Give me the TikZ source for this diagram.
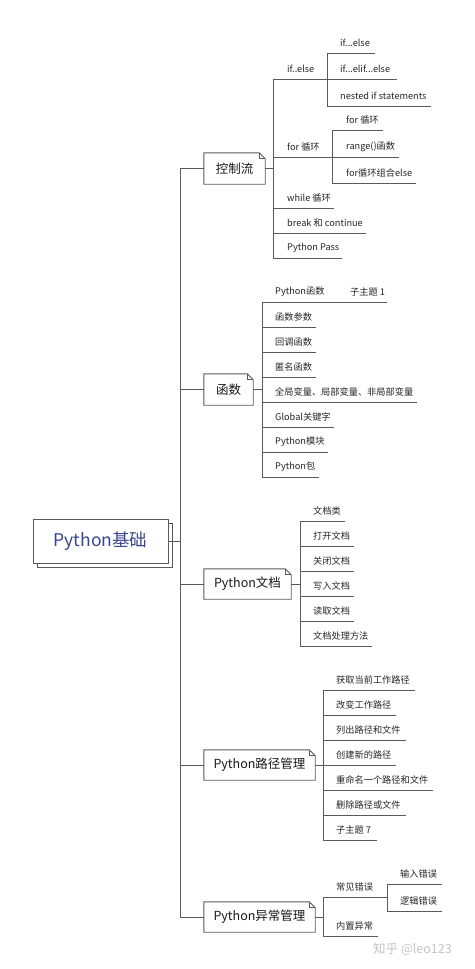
\documentclass[tikz,border=0pt]{standalone}
\usepackage{fontspec}
\setmainfont{Noto Sans CJK SC}
\definecolor{lncol}{HTML}{5A5A5A}
\definecolor{rootblue}{HTML}{3A4590}
\definecolor{wmgray}{HTML}{C4C4C4}
\tikzset{
  ln/.style={draw=lncol, line width=0.9pt},
  leaf/.style={anchor=west, inner sep=0pt, font=\fontsize{9.2}{11}\selectfont, text=black!85},
  topic/.style={inner sep=0pt, font=\fontsize{12.5}{14}\selectfont, text=black!90},
}
\newcommand\mmleaf[5]{%
  \node[leaf] (#1) at (#2,{#3-10}) {#5};
  \coordinate (#1-r) at (#4,#3);
}
\newcommand\foldbox[1]{%
  \draw[ln, fill=white] (#1.north west) -- ([xshift=-6pt]#1.north east) -- ([yshift=-6pt]#1.north east) -- (#1.south east) -- (#1.south west) -- cycle;
  \draw[ln] ([xshift=-6pt]#1.north east) |- ([yshift=-6pt]#1.north east);
}
\begin{document}
\begin{tikzpicture}[x=1pt,y=-1pt]
\useasboundingbox (0,0) rectangle (474,969);
\fill[white] (0,0) rectangle (474,969);

% root
\draw[ln, fill=white] (37,523) rectangle (172,567);
\node[draw=lncol, line width=0.9pt, fill=white, minimum width=135pt, minimum height=44pt, inner sep=0pt,
      font=\fontsize{17.5}{20}\selectfont, text=rootblue] (root) at (100.5,541) {Python基础};

% spine
\coordinate (spine) at (180,0);

% topic boxes
\node[topic, minimum width=61pt, minimum height=31pt] (c1) at (234.5,168.5) {控制流};
\node[topic, minimum width=49pt, minimum height=31pt] (c2) at (228.5,389.5) {函数};
\node[topic, minimum width=87pt, minimum height=30pt] (c3) at (247.5,584) {Python文档};
\node[topic, minimum width=111pt, minimum height=30pt] (c4) at (259.5,765) {Python路径管理};
\node[topic, minimum width=111pt, minimum height=30pt] (c5) at (259.5,917) {Python异常管理};
\foreach \b in {c1,c2,c3,c4,c5} {\foldbox{\b}}
\node[topic] at (c1) {控制流};
\node[topic] at (c2) {函数};
\node[topic] at (c3) {Python文档};
\node[topic] at (c4) {Python路径管理};
\node[topic] at (c5) {Python异常管理};

\draw[ln] (root.east) -- (root.east -| spine);
\draw[ln] (spine |- c1.west) -- (spine |- c5.west);
\foreach \b in {c1,c2,c3,c4,c5} {\draw[ln] (spine |- \b.west) -- (\b.west);}

% ---- 控制流
\coordinate (v1) at (273,0);
\mmleaf{ifelse}{287}{79}{327}{if..else}
\mmleaf{forl}{287}{157}{332}{for 循环}
\mmleaf{while}{287}{208}{334}{while 循环}
\mmleaf{brk}{287}{233}{366}{break 和 continue}
\mmleaf{pass}{287}{258}{342}{Python Pass}
\draw[ln] (c1.east) -- (c1.east -| v1);
\draw[ln] (v1 |- ifelse-r) -- (v1 |- pass-r);
\foreach \n in {ifelse,forl,while,brk,pass} {\draw[ln] (v1 |- \n-r) -- (\n-r);}

\coordinate (v11) at (327,0);
\mmleaf{ie1}{340}{53}{375}{if...else}
\mmleaf{ie2}{340}{79}{397}{if...elif...else}
\mmleaf{ie3}{340}{106}{431}{nested if statements}
\draw[ln] (v11 |- ie1-r) -- (v11 |- ie3-r);
\foreach \n in {ie1,ie2,ie3} {\draw[ln] (v11 |- \n-r) -- (\n-r);}

\coordinate (v12) at (332,0);
\mmleaf{fo1}{346}{130}{383}{for 循环}
\mmleaf{fo2}{346}{157}{399}{range()函数}
\mmleaf{fo3}{346}{183}{416}{for循环组合else}
\draw[ln] (v12 |- fo1-r) -- (v12 |- fo3-r);
\foreach \n in {fo1,fo2,fo3} {\draw[ln] (v12 |- \n-r) -- (\n-r);}

% ---- 函数
\coordinate (v2) at (262,0);
\mmleaf{pyf}{275}{302}{340}{Python函数}
\mmleaf{sub1}{350}{302}{387}{子主题 1}
\mmleaf{fa}{275}{327}{316}{函数参数}
\mmleaf{fb}{275}{352}{316}{回调函数}
\mmleaf{fc}{275}{377}{316}{匿名函数}
\mmleaf{fd}{275}{402}{417}{全局变量、局部变量、非局部变量}
\mmleaf{fe}{275}{427}{334}{Global关键字}
\mmleaf{ff}{275}{452}{328}{Python模块}
\mmleaf{fg}{275}{477}{319}{Python包}
\draw[ln] (c2.east) -- (c2.east -| v2);
\draw[ln] (v2 |- pyf-r) -- (v2 |- fg-r);
\foreach \n in {pyf,fa,fb,fc,fd,fe,ff,fg} {\draw[ln] (v2 |- \n-r) -- (\n-r);}
\draw[ln] (pyf-r) -- (sub1-r);

% ---- 文档
\coordinate (v3) at (300,0);
\mmleaf{da}{313}{521}{345}{文档类}
\mmleaf{db}{313}{546}{354}{打开文档}
\mmleaf{dc}{313}{571}{354}{关闭文档}
\mmleaf{dd}{313}{596}{354}{写入文档}
\mmleaf{de}{313}{621}{354}{读取文档}
\mmleaf{df}{313}{646}{372}{文档处理方法}
\draw[ln] (c3.east) -- (c3.east -| v3);
\draw[ln] (v3 |- da-r) -- (v3 |- df-r);
\foreach \n in {da,db,dc,dd,de,df} {\draw[ln] (v3 |- \n-r) -- (\n-r);}

% ---- 路径管理
\coordinate (v4) at (323,0);
\mmleaf{pa}{336}{690}{415}{获取当前工作路径}
\mmleaf{pb}{336}{715}{396}{改变工作路径}
\mmleaf{pc}{336}{740}{406}{列出路径和文件}
\mmleaf{pd}{336}{765}{396}{创建新的路径}
\mmleaf{pe}{336}{790}{433}{重命名一个路径和文件}
\mmleaf{pf}{336}{815}{406}{删除路径或文件}
\mmleaf{pg}{336}{840}{377}{子主题 7}
\draw[ln] (c4.east) -- (c4.east -| v4);
\draw[ln] (v4 |- pa-r) -- (v4 |- pg-r);
\foreach \n in {pa,pb,pc,pd,pe,pf,pg} {\draw[ln] (v4 |- \n-r) -- (\n-r);}

% ---- 异常管理
\coordinate (v5) at (323,0);
\mmleaf{ea}{336}{897}{387}{常见错误}
\mmleaf{eb}{336}{936}{378}{内置异常}
\draw[ln] (c5.east) -- (c5.east -| v5);
\draw[ln] (v5 |- ea-r) -- (v5 |- eb-r);
\foreach \n in {ea,eb} {\draw[ln] (v5 |- \n-r) -- (\n-r);}

\coordinate (v51) at (387,0);
\mmleaf{ea1}{400}{884}{442}{输入错误}
\mmleaf{ea2}{400}{911}{442}{逻辑错误}
\draw[ln] (v51 |- ea1-r) -- (v51 |- ea2-r);
\foreach \n in {ea1,ea2} {\draw[ln] (v51 |- \n-r) -- (\n-r);}

% watermark
\node[anchor=west, inner sep=0pt, text=wmgray, font=\fontsize{12.5}{14}\selectfont] (wm) at (373,949) {知乎 @leo123};
\end{tikzpicture}
\end{document}
